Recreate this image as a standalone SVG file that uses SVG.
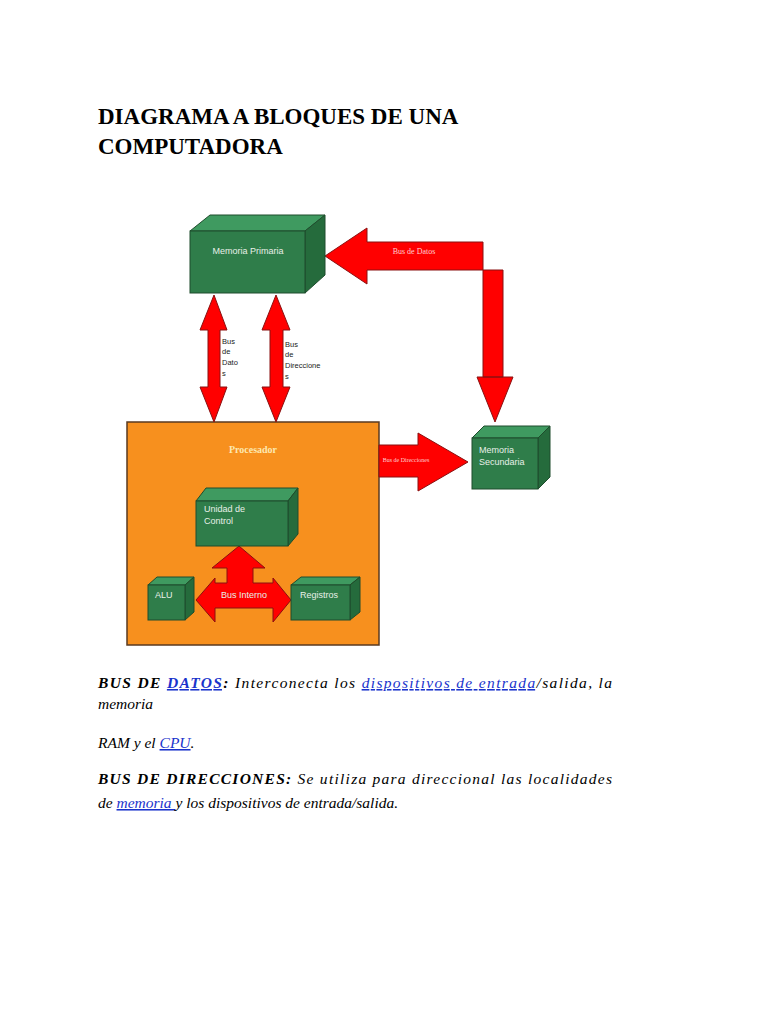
<svg xmlns="http://www.w3.org/2000/svg" width="768" height="1024" viewBox="0 0 768 1024">
<style>
.f{fill:#2f7d4a;stroke:#1e4d2c;stroke-width:1}
.t{fill:#3f9a60;stroke:#1e4d2c;stroke-width:1}
.s{fill:#256b3c;stroke:#1e4d2c;stroke-width:1}
.ar{fill:#ff0000;stroke:#8a1010;stroke-width:1}
.lb{font-family:"Liberation Sans",Arial,sans-serif;font-size:9px;fill:#e8f0e8}
.sm{font-family:"Liberation Sans",Arial,sans-serif;font-size:7.5px;fill:#222}
.p{font-family:"Liberation Serif","Times New Roman",serif;font-size:15.5px;font-style:italic;fill:#000}
.a{fill:#1a33cc;text-decoration:underline}
</style>
<rect width="768" height="1024" fill="#fff"/>
<g id="title" font-family="Liberation Serif,serif" font-weight="bold" font-size="23" fill="#000">
<text x="98" y="124">DIAGRAMA A BLOQUES DE UNA</text>
<text x="98" y="154">COMPUTADORA</text>
</g>
<g id="procesador">
<rect x="127" y="422" width="252" height="223" fill="#f7901e" stroke="#5a3a20" stroke-width="1.5"/>
<text x="253" y="453" text-anchor="middle" font-family="Liberation Serif,serif" font-weight="bold" font-size="10" fill="#fde8b0">Procesador</text>
</g>
<g id="connectors">
<polygon class="ar" points="325,256 367,228 367,242 483,242 483,377 513,377 495,422 477,377 503,377 503,270 367,270 367,284"/>
<polygon class="ar" points="214,295 227,330 220,330 220,387 227,387 214,422 200,387 208,387 208,330 200,330"/>
<polygon class="ar" points="276,295 290,330 283,330 283,387 290,387 276,422 262,387 270,387 270,330 262,330"/>
<polygon class="ar" points="379,445 418,445 418,433 468,462 418,491 418,477 379,477"/>
<polygon class="ar" points="196,600 215,578 215,583 227,583 227,568 212,568 239,546 265,568 253,568 253,583 273,583 273,578 291,600 273,622 273,608 215,608 215,622"/>
<text x="414" y="254" text-anchor="middle" font-family="Liberation Serif,serif" font-size="8" fill="#ffd0d0">Bus de Datos</text>
<text x="406" y="462" text-anchor="middle" font-family="Liberation Serif,serif" font-size="6" fill="#ffd0d0">Bus de Direcciones</text>
<text x="244" y="598" text-anchor="middle" class="lb">Bus Interno</text>
<text class="sm" x="222" y="344">Bus</text><text class="sm" x="222" y="354">de</text><text class="sm" x="222" y="365">Dato</text><text class="sm" x="222" y="376">s</text>
<text class="sm" x="285" y="347">Bus</text><text class="sm" x="285" y="357">de</text><text class="sm" x="285" y="368">Direccione</text><text class="sm" x="285" y="379">s</text>
</g>
<g id="memoria-primaria">
<polygon class="t" points="190,231 210,215 325,215 305,231"/>
<polygon class="s" points="305,231 325,215 325,275 305,293"/>
<rect class="f" x="190" y="231" width="115" height="62"/>
<text class="lb" x="248" y="254" text-anchor="middle">Memoria Primaria</text>
</g>
<g id="memoria-secundaria">
<polygon class="t" points="472,438 484,426 550,426 538,438"/>
<polygon class="s" points="538,438 550,426 550,477 538,489"/>
<rect class="f" x="472" y="438" width="66" height="51"/>
<text class="lb" x="479" y="453">Memoria</text><text class="lb" x="479" y="465">Secundaria</text>
</g>
<g id="unidad-control">
<polygon class="t" points="196,501 206,488 298,488 288,501"/>
<polygon class="s" points="288,501 298,488 298,534 288,546"/>
<rect class="f" x="196" y="501" width="92" height="45"/>
<text class="lb" x="204" y="512">Unidad de</text><text class="lb" x="204" y="524">Control</text>
</g>
<g id="alu">
<polygon class="t" points="148,585 157,577 194,577 185,585"/>
<polygon class="s" points="185,585 194,577 194,612 185,620"/>
<rect class="f" x="148" y="585" width="37" height="35"/>
<text class="lb" x="155" y="598">ALU</text>
</g>
<g id="registros">
<polygon class="t" points="291,585 301,577 360,577 350,585"/>
<polygon class="s" points="350,585 360,577 360,612 350,620"/>
<rect class="f" x="291" y="585" width="59" height="35"/>
<text class="lb" x="300" y="598">Registros</text>
</g>
<g id="texto">
<text class="p" x="98" y="688" textLength="514" lengthAdjust="spacing"><tspan font-weight="bold">BUS DE </tspan><tspan font-weight="bold" class="a">DATOS</tspan><tspan font-weight="bold">:</tspan> Interconecta los <tspan class="a">dispositivos de entrada</tspan>/salida, la</text>
<text class="p" x="98" y="709">memoria</text>
<text class="p" x="98" y="748">RAM y el <tspan class="a">CPU</tspan>.</text>
<text class="p" x="98" y="784" textLength="514" lengthAdjust="spacing"><tspan font-weight="bold">BUS DE DIRECCIONES:</tspan> Se utiliza para direccional las localidades</text>
<text class="p" x="98" y="808">de <tspan class="a">memoria </tspan>y los dispositivos de entrada/salida.</text>
</g>
</svg>
